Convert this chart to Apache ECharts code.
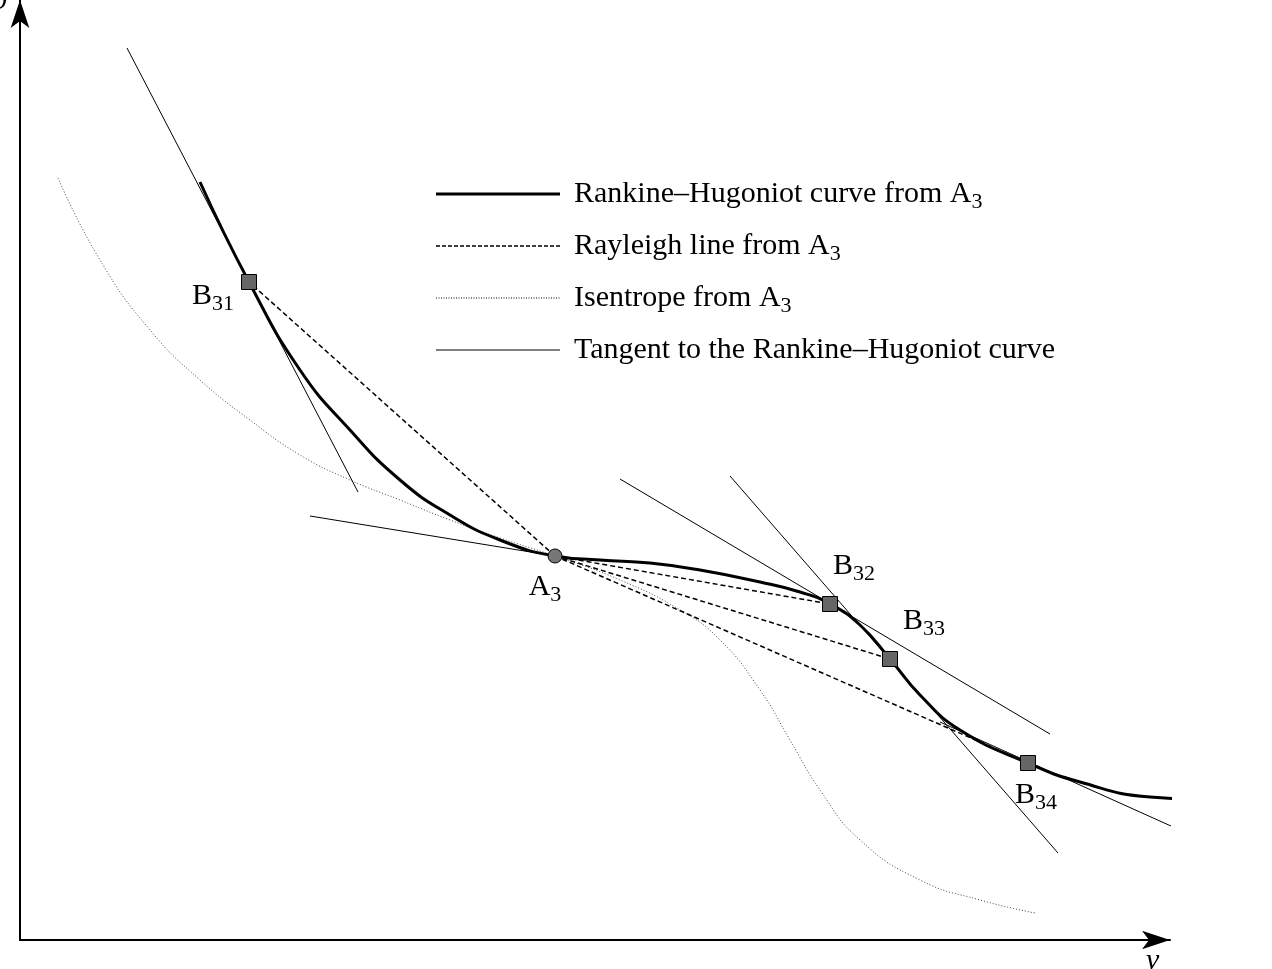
<!DOCTYPE html>
<html>
<head>
<meta charset="utf-8">
<script src="https://cdn.jsdelivr.net/npm/echarts@6/dist/echarts.min.js"></script>
<style>html,body{margin:0;background:#fff}#chart{width:1272px;height:969px}</style>
</head>
<body>
<div id="chart"></div>
<script>
// coordinates in plot units (x to the right, y upward from the v axis)
const rhCurve = [[180,758],[229,658],[280,570],[330,510],[380,460],[430,425],[480,400],[535,384],[580,380],[630,377],[680,370],[740,358],[780,348],[810,336],[840,315],[870,281],[900,245],[940,210],[1008,177],[1060,158],[1130,143],[1230,139]];
const isentrope = [[38,762],[80,680],[130,610],[180,560],[230,520],[280,485],[330,460],[380,440],[430,420],[480,402],[535,384],[600,360],[660,330],[700,300],[740,250],[770,200],[800,150],[840,100],[900,60],[960,40],[1015,27]];
const tangentB31 = [[107,892],[338,448]];
const tangentA3 = [[290,424],[535,384]];
const tangentB32 = [[600,461],[1030,206]];
const tangentB33 = [[710,464],[1038,87]];
const tangentB34 = [[920,218],[1162,109]];
const pointA3 = [535,384];
const pointsB = [
  {name:'31', value:[229,658]},
  {name:'32', value:[810,336]},
  {name:'33', value:[870,281]},
  {name:'34', value:[1008,177]}
];
const legendNames = ['Rankine–Hugoniot curve from ', 'Rayleigh line from ', 'Isentrope from ', 'Tangent to the Rankine–Hugoniot curve'];

const chart = echarts.init(document.getElementById('chart'));
const font = 'Liberation Serif';
const thin = (data) => ({type:'line', data, symbol:'none', clip:false, lineStyle:{color:'#000', width:1}, z:2});
const rayleigh = pointsB.map(b => ({type:'line', data:[pointA3, b.value], symbol:'none', lineStyle:{color:'#000', width:1.5, type:[5,3]}, z:3}));

const labelPos = {'31':['left',[-2,14]], '32':['top',[24,-6]], '33':['top',[34,-6]], '34':['bottom',[8,0]]};
const rich = {b:{fontFamily:font, fontSize:30, color:'#000'}, s:{fontFamily:font, fontSize:22, color:'#000', padding:[16,0,0,0]}};

const legendGraphics = [];
const styles = [
  {lineWidth:3}, {lineWidth:1.5, lineDash:[4,2]}, {lineWidth:1, lineDash:[1,1.5]}, {lineWidth:1}
];
legendNames.forEach((n, i) => {
  const y = 194 + i * 52;
  legendGraphics.push({type:'line', shape:{x1:436, y1:y, x2:560, y2:y}, style:Object.assign({stroke:'#000'}, styles[i])});
  legendGraphics.push({type:'text', x:574, y:y, style:{
    text: i < 3 ? '{b|' + n + 'A}{s|3}' : '{b|' + n + '}',
    rich, verticalAlign:'middle', fill:'#000'}});
});
legendGraphics.push({type:'text', x:1146, y:946, style:{text:'v', font:'italic 30px "Liberation Serif"', fill:'#000'}});
legendGraphics.push({type:'text', x:-8, y:-14, style:{text:'p', font:'italic 30px "Liberation Serif"', fill:'#000'}});

chart.setOption({
  animation:false,
  grid:{left:20, right:102, top:0, bottom:29, containLabel:false, outerBoundsMode:'none'},
  xAxis:{type:'value', min:0, max:1150, splitLine:{show:false}, axisTick:{show:false}, axisLabel:{show:false},
    axisLine:{lineStyle:{color:'#000', width:2}, symbol:['none','arrow'], symbolSize:[14,28], symbolOffset:[0,0]}},
  yAxis:{type:'value', min:0, max:940, splitLine:{show:false}, axisTick:{show:false}, axisLabel:{show:false},
    axisLine:{lineStyle:{color:'#000', width:2}, symbol:['none','arrow'], symbolSize:[14,28], symbolOffset:[0,0]}},
  graphic:legendGraphics,
  series:[
    {type:'line', data:isentrope, smooth:true, symbol:'none', lineStyle:{color:'#444', width:1, type:[1,2]}, z:1},
    thin(tangentB31), thin(tangentA3), thin(tangentB32), thin(tangentB33), thin(tangentB34),
    ...rayleigh,
    {type:'line', data:rhCurve, smooth:true, clip:false, symbol:'none', lineStyle:{color:'#000', width:3}, z:4},
    {type:'scatter', data:[{name:'A3', value:pointA3}], symbol:'circle', symbolSize:14,
      itemStyle:{color:'#777', borderColor:'#000', borderWidth:1, opacity:1}, z:5,
      label:{show:true, color:'#000', position:'bottom', offset:[-10,0], formatter:'{b|A}{s|3}', rich}},
    {type:'scatter', data:pointsB.map(b => ({name:b.name, value:b.value,
        label:{show:true, color:'#000', position:labelPos[b.name][0], offset:labelPos[b.name][1], formatter:'{b|B}{s|' + b.name + '}', rich}})),
      symbol:'rect', symbolSize:15, itemStyle:{color:'#666', borderColor:'#000', borderWidth:1, opacity:1}, z:5}
  ]
});
new ResizeObserver(() => chart.resize()).observe(document.getElementById('chart'));
</script>
</body>
</html>
